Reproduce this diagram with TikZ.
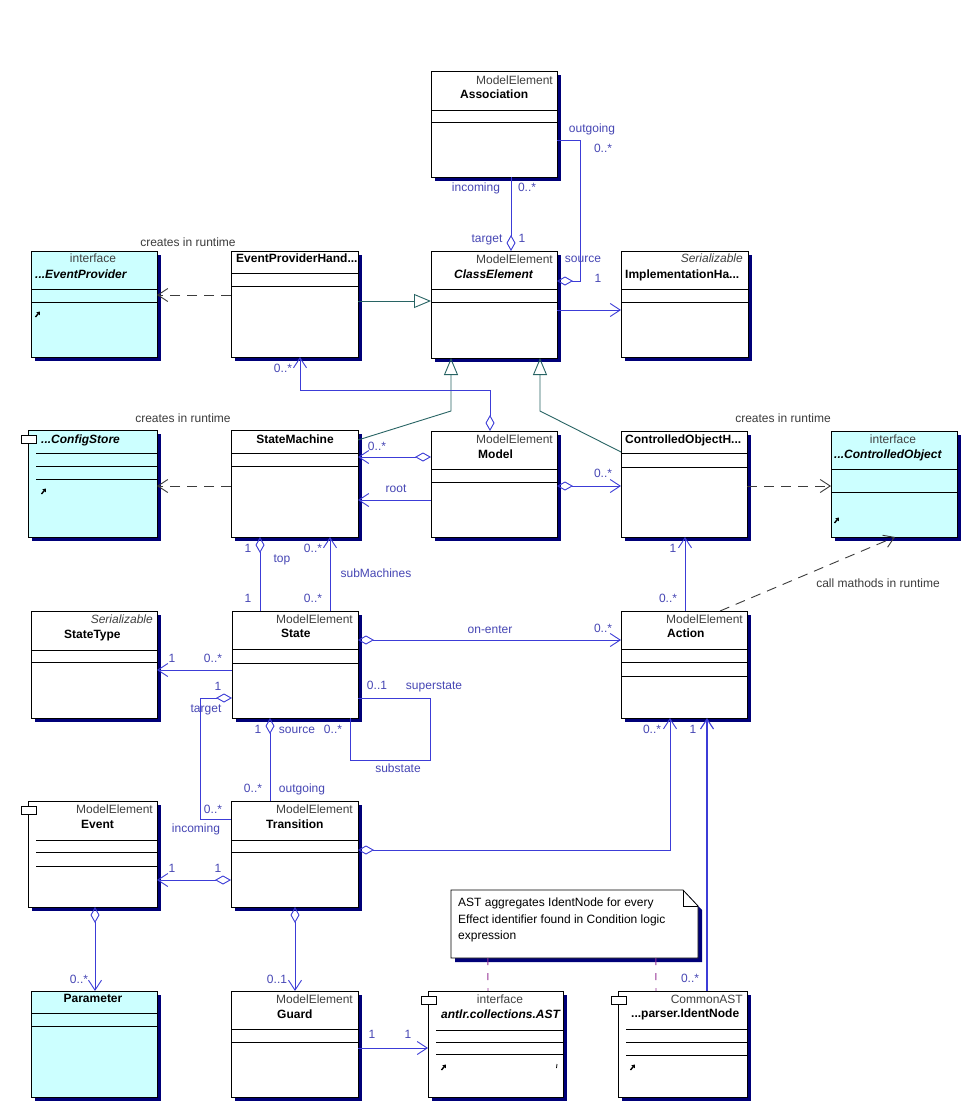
\documentclass[tikz,border=0pt]{standalone}
\usepackage{fontspec}
\setmainfont{Liberation Sans}
\usetikzlibrary{arrows.meta,fit,calc}
\definecolor{lineblue}{RGB}{60,60,215}
\definecolor{lblblue}{RGB}{70,70,180}
\definecolor{shadowc}{RGB}{0,0,120}
\definecolor{cyanfill}{RGB}{204,255,255}
\definecolor{gent}{RGB}{40,100,100}
\definecolor{notep}{RGB}{150,50,150}
\definecolor{stc}{RGB}{64,64,64}
\definecolor{depc}{RGB}{60,60,60}
\newcommand\sz{\fontsize{12}{14}\selectfont}
\tikzset{
  oarr/.tip={Straight Barb[length=10pt,width=13pt]},
  odia/.tip={Diamond[open,length=16pt,width=9pt]},
  otri/.tip={Triangle[open,length=17pt,width=14pt]},
  box/.style={draw=black, line width=0.8pt, inner sep=0pt, outer sep=0pt},
  cl/.style={draw=black, line width=0.8pt},
  conn/.style={draw=lineblue, line width=0.9pt},
  gen/.style={draw=gent, line width=0.9pt, -otri},
  dep/.style={draw=depc, line width=0.9pt, dash pattern=on 10pt off 7pt, -oarr},
  notel/.style={draw=notep, line width=0.9pt, dash pattern=on 7pt off 8pt},
  st/.style={font=\sz, text=stc, inner sep=0pt},
  sti/.style={font=\sz\itshape, text=stc, inner sep=0pt},
  nm/.style={font=\sz\bfseries, inner sep=0pt},
  nmi/.style={font=\sz\bfseries\itshape, inner sep=0pt},
  lb/.style={font=\sz, text=lblblue, inner sep=0pt, anchor=base},
  dl/.style={font=\sz, text=depc, inner sep=0pt, anchor=base},
  icon/.style={line width=1.4pt, -{Triangle[length=3pt,width=4.5pt]}},
}
\newcommand\umlbox[6]{%
  \fill[shadowc] (#2+4,#3+4) rectangle (#4+4,#5+4);
  \node[box, fill=#6, fit={(#2,#3) (#4,#5)}] (#1) {};
}
\newcommand\complines[3]{\foreach \yy in {#3} {\draw[cl] (#1,\yy) -- (#2,\yy);}}
\newcommand\pkgtab[2]{\draw[cl, fill=white] (#1,#2) rectangle (#1+15,#2+8);}
\begin{document}
\begin{tikzpicture}[x=1pt,y=-1pt]
\useasboundingbox[fill=white] (0,0) rectangle (971,1111);

% ---------- boxes ----------
\umlbox{assoc}{431}{71}{557}{177}{white}
\complines{431}{557}{110,122}
\node[st, anchor=base east] (assoc-s) at (553,84) {ModelElement};
\node[nm, anchor=base west] (assoc-n) at (460,98) {Association};

\umlbox{classel}{431}{251}{557}{358}{white}
\complines{431}{557}{289,302}
\node[st, anchor=base east] (classel-s) at (553,263) {ModelElement};
\node[nmi, anchor=base west] (classel-n) at (454,278) {ClassElement};

\umlbox{impl}{621}{251}{748}{357}{white}
\complines{621}{748}{289,302}
\node[sti, anchor=base east] (impl-s) at (743,262) {Serializable};
\node[nm, anchor=base west] (impl-n) at (625,278) {ImplementationHa...};

\umlbox{evprov}{31}{251}{157}{357}{cyanfill}
\complines{31}{157}{289,302}
\node[st, anchor=base] (evprov-s) at (93,262) {interface};
\node[nmi, anchor=base west] (evprov-n) at (35,278) {...EventProvider};
\draw[icon] (35.5,317) -- (40,311.5);

\umlbox{evph}{231}{251}{358}{357}{white}
\complines{231}{358}{273,286}
\node[nm, anchor=base west] (evph-n) at (236,262) {EventProviderHand...};

\umlbox{config}{28}{430}{157}{537}{cyanfill}
\complines{36}{157}{453,466,479}
\pkgtab{21}{435}
\node[nmi, anchor=base west] (config-n) at (41,443) {...ConfigStore};
\draw[icon] (41.5,494) -- (46,488.5);

\umlbox{statem}{231}{430}{358}{537}{white}
\complines{231}{358}{453,466}
\node[nm, anchor=base] (statem-n) at (295,443) {StateMachine};

\umlbox{model}{431}{431}{557}{537}{white}
\complines{431}{557}{469,482}
\node[st, anchor=base east] (model-s) at (553,443) {ModelElement};
\node[nm, anchor=base west] (model-n) at (478,458) {Model};

\umlbox{coh}{621}{431}{747}{537}{white}
\complines{621}{747}{453,467}
\node[nm, anchor=base west] (coh-n) at (625,443) {ControlledObjectH...};

\umlbox{cobj}{831}{431}{957}{537}{cyanfill}
\complines{831}{957}{469,492}
\node[st, anchor=base] (cobj-s) at (893,443) {interface};
\node[nmi, anchor=base west] (cobj-n) at (834,458) {...ControlledObject};
\draw[icon] (834.5,523) -- (839,517.5);

\umlbox{stype}{31}{611}{157}{718}{white}
\complines{31}{157}{650,662}
\node[sti, anchor=base east] (stype-s) at (153,623) {Serializable};
\node[nm, anchor=base west] (stype-n) at (64,638) {StateType};

\umlbox{state}{232}{611}{358}{718}{white}
\complines{232}{358}{649,663}
\node[st, anchor=base east] (state-s) at (353,623) {ModelElement};
\node[nm, anchor=base west] (state-n) at (281,637) {State};

\umlbox{action}{621}{611}{747}{718}{white}
\complines{621}{747}{649,662,676}
\node[st, anchor=base east] (action-s) at (743,623) {ModelElement};
\node[nm, anchor=base west] (action-n) at (667,637) {Action};

\umlbox{event}{28}{801}{157}{907}{white}
\complines{36}{157}{840,852,866}
\pkgtab{21}{806}
\node[st, anchor=base east] (event-s) at (153,813) {ModelElement};
\node[nm, anchor=base west] (event-n) at (81,828) {Event};

\umlbox{trans}{231}{801}{358}{907}{white}
\complines{231}{358}{840,852}
\node[st, anchor=base east] (trans-s) at (353,813) {ModelElement};
\node[nm, anchor=base west] (trans-n) at (266,828) {Transition};

\umlbox{param}{31}{991}{157}{1097}{cyanfill}
\complines{31}{157}{1013,1026}
\node[nm, anchor=base] (param-n) at (93,1002) {Parameter};

\umlbox{guard}{231}{991}{358}{1097}{white}
\complines{231}{358}{1029,1042}
\node[st, anchor=base east] (guard-s) at (353,1003) {ModelElement};
\node[nm, anchor=base west] (guard-n) at (277,1018) {Guard};

\umlbox{ast}{428}{991}{563}{1097}{white}
\complines{436}{563}{1030,1042,1054}
\pkgtab{421}{996}
\node[st, anchor=base] (ast-s) at (500,1003) {interface};
\node[nmi, anchor=base west] (ast-n) at (441,1018) {antlr.collections.AST};
\draw[icon] (441.5,1070) -- (446,1064.5);
\draw[line width=0.8pt] (557,1064) -- (556.5,1068);

\umlbox{ident}{618}{991}{747}{1097}{white}
\complines{626}{747}{1029,1042,1055}
\pkgtab{611}{996}
\node[st, anchor=base east] (ident-s) at (743,1003) {CommonAST};
\node[nm, anchor=base west] (ident-n) at (631,1017) {...parser.IdentNode};
\draw[icon] (630.5,1070) -- (635,1064.5);

% note
\fill[shadowc] (455,894) -- (687,894) -- (702,910) -- (702,962) -- (455,962) -- cycle;
\draw[cl, fill=white] (451,890) -- (683,890) -- (698,906) -- (698,958) -- (451,958) -- cycle;
\draw[cl] (683,890) -- (683,906) -- (698,906);
\node[fit={(451,890) (698,958)}, inner sep=0pt] (note) {};
\node[st, text=black, anchor=base west] (note-1) at (458,906) {AST aggregates IdentNode for every};
\node[st, text=black, anchor=base west] (note-2) at (458,923) {Effect identifier found in Condition logic};
\node[st, text=black, anchor=base west] (note-3) at (458,939) {expression};

% ---------- connectors ----------
\draw[conn, odia-] ([xshift=80pt]classel.north west) -- ([xshift=80pt]assoc.south west);
\node[lb] (l-inc) at (476,191) {incoming};
\node[lb] (l-inc-m) at (527,191) {0..*};
\node[lb] (l-tgt) at (487,242) {target};
\node[lb] (l-tgt-m) at (522,242) {1};
\draw[conn, odia-] ([yshift=-30pt]classel.north east) -- ++(23,0) |- ([yshift=-69pt]assoc.north east);
\node[lb] (l-out) at (592,132) {outgoing};
\node[lb] (l-out-m) at (603,152) {0..*};
\node[lb] (l-src) at (583,262) {source};
\node[lb] (l-src-m) at (598,282) {1};
\draw[conn, -oarr] ([yshift=-59pt]classel.north east) -- ([yshift=-59pt]impl.north west);
\draw[gen] ([yshift=-50pt]evph.north east) -- ([yshift=-50pt]classel.north west);
\draw[gen] ([yshift=-10pt]statem.north east) -- ([xshift=20pt,yshift=-53pt]classel.south west) -- ([xshift=20pt]classel.south west);
\draw[gen] ([yshift=-21pt]coh.north west) -- ([xshift=109pt,yshift=-53pt]classel.south west) -- ([xshift=109pt]classel.south west);
\draw[dep] ([yshift=-44pt]evph.north west) -- ([yshift=-44pt]evprov.north east);
\node[dl] (d-1) at (188,246) {creates in runtime};
\draw[dep] ([yshift=-56pt]statem.north west) -- ([yshift=-56pt]config.north east);
\node[dl] (d-2) at (183,422) {creates in runtime};
\draw[dep] ([yshift=-55pt]coh.north east) -- ([yshift=-55pt]cobj.north west);
\node[dl] (d-3) at (783,422) {creates in runtime};
\draw[dep] ([xshift=99pt]action.north west) -- ([xshift=64pt]cobj.south west);
\node[dl] (d-4) at (878,587) {call mathods in runtime};
\draw[conn, odia-oarr] ([xshift=59pt]model.north west) -- ++(0,-41) -| ([xshift=69pt]evph.south west);
\node[lb] (l-m1) at (283,372) {0..*};
\draw[conn, odia-oarr] ([yshift=-26pt]model.north west) -- ([yshift=-27pt]statem.north east);
\node[lb] (l-m2) at (377,450) {0..*};
\draw[conn, -oarr] ([yshift=-69pt]model.north west) -- ([yshift=-70pt]statem.north east);
\node[lb] (l-root) at (396,492) {root};
\draw[conn, odia-oarr] ([yshift=-55pt]model.north east) -- ([yshift=-55pt]coh.north west);
\node[lb] (l-m3) at (603,477) {0..*};
\draw[conn, odia-] ([xshift=29pt]statem.south west) -- ([xshift=28pt]state.north west);
\node[lb] (l-top1) at (248,552) {1};
\node[lb] (l-top) at (282,562) {top};
\node[lb] (l-top2) at (248,602) {1};
\draw[conn, -oarr] ([xshift=98pt]state.north west) -- ([xshift=99pt]statem.south west);
\node[lb] (l-sub1) at (313,552) {0..*};
\node[lb] (l-sub) at (376,577) {subMachines};
\node[lb] (l-sub2) at (313,602) {0..*};
\draw[conn, -oarr] ([yshift=-59pt]state.north west) -- ([yshift=-59pt]stype.north east);
\node[lb] (l-st1) at (172,662) {1};
\node[lb] (l-st2) at (213,662) {0..*};
\draw[conn, odia-oarr] ([yshift=-29pt]state.north east) -- ([yshift=-29pt]action.north west);
\node[lb] (l-oe) at (490,633) {on-enter};
\node[lb] (l-oe-m) at (603,632) {0..*};
\draw[conn] ([yshift=-87pt]state.north east) -- ++(72,0) -- ++(0,62) -| ([xshift=118pt]state.south west);
\node[lb] (l-sup-m) at (377,689) {0..1};
\node[lb] (l-sup) at (434,689) {superstate};
\node[lb] (l-subs) at (398,772) {substate};
\node[lb] (l-subs-m) at (333,733) {0..*};
\draw[conn, odia-] ([yshift=-87pt]state.north west) -- ++(-32,0) |- ([yshift=-18pt]trans.north west);
\node[lb] (l-t1) at (218,690) {1};
\node[lb] (l-t2) at (206,712) {target};
\node[lb] (l-t3) at (213,813) {0..*};
\node[lb] (l-t4) at (196,832) {incoming};
\draw[conn, odia-] ([xshift=38pt]state.south west) -- ([xshift=39pt]trans.north west);
\node[lb] (l-s1) at (258,733) {1};
\node[lb] (l-s2) at (297,733) {source};
\node[lb] (l-s3) at (253,792) {0..*};
\node[lb] (l-s4) at (302,792) {outgoing};
\draw[conn, odia-oarr] ([yshift=-79pt]trans.north west) -- ([yshift=-79pt]event.north east);
\node[lb] (l-e1) at (172,872) {1};
\node[lb] (l-e2) at (218,872) {1};
\draw[conn, odia-oarr] ([xshift=67pt]event.south west) -- ([xshift=64pt]param.north west);
\node[lb] (l-p) at (79,983) {0..*};
\draw[conn, odia-oarr] ([xshift=64pt]trans.south west) -- ([xshift=64pt]guard.north west);
\node[lb] (l-g) at (277,983) {0..1};
\draw[conn, odia-oarr] ([yshift=-49pt]trans.north east) -| ([xshift=49pt]action.south west);
\node[lb] (l-ta) at (652,733) {0..*};
\draw[conn, line width=1.1pt, -oarr] ([xshift=89pt]ident.north west) -- ([xshift=86pt]action.south west);
\node[lb] (l-ia1) at (693,733) {1};
\node[lb] (l-ia2) at (690,982) {0..*};
\draw[conn, -oarr] ([yshift=-57pt]guard.north east) -- ([yshift=-57pt]ast.north west);
\node[lb] (l-ga1) at (372,1038) {1};
\node[lb] (l-ga2) at (408,1038) {1};
\draw[notel] ([xshift=37pt]note.south west) -- ([xshift=60pt]ast.north west);
\draw[notel] ([xshift=205pt]note.south west) -- ([xshift=38pt]ident.north west);
\draw[conn, -oarr] ([xshift=64pt]action.north west) -- ([xshift=64pt]coh.south west);
\node[lb] (l-ac1) at (673,552) {1};
\node[lb] (l-ac2) at (668,602) {0..*};
\end{tikzpicture}
\end{document}
